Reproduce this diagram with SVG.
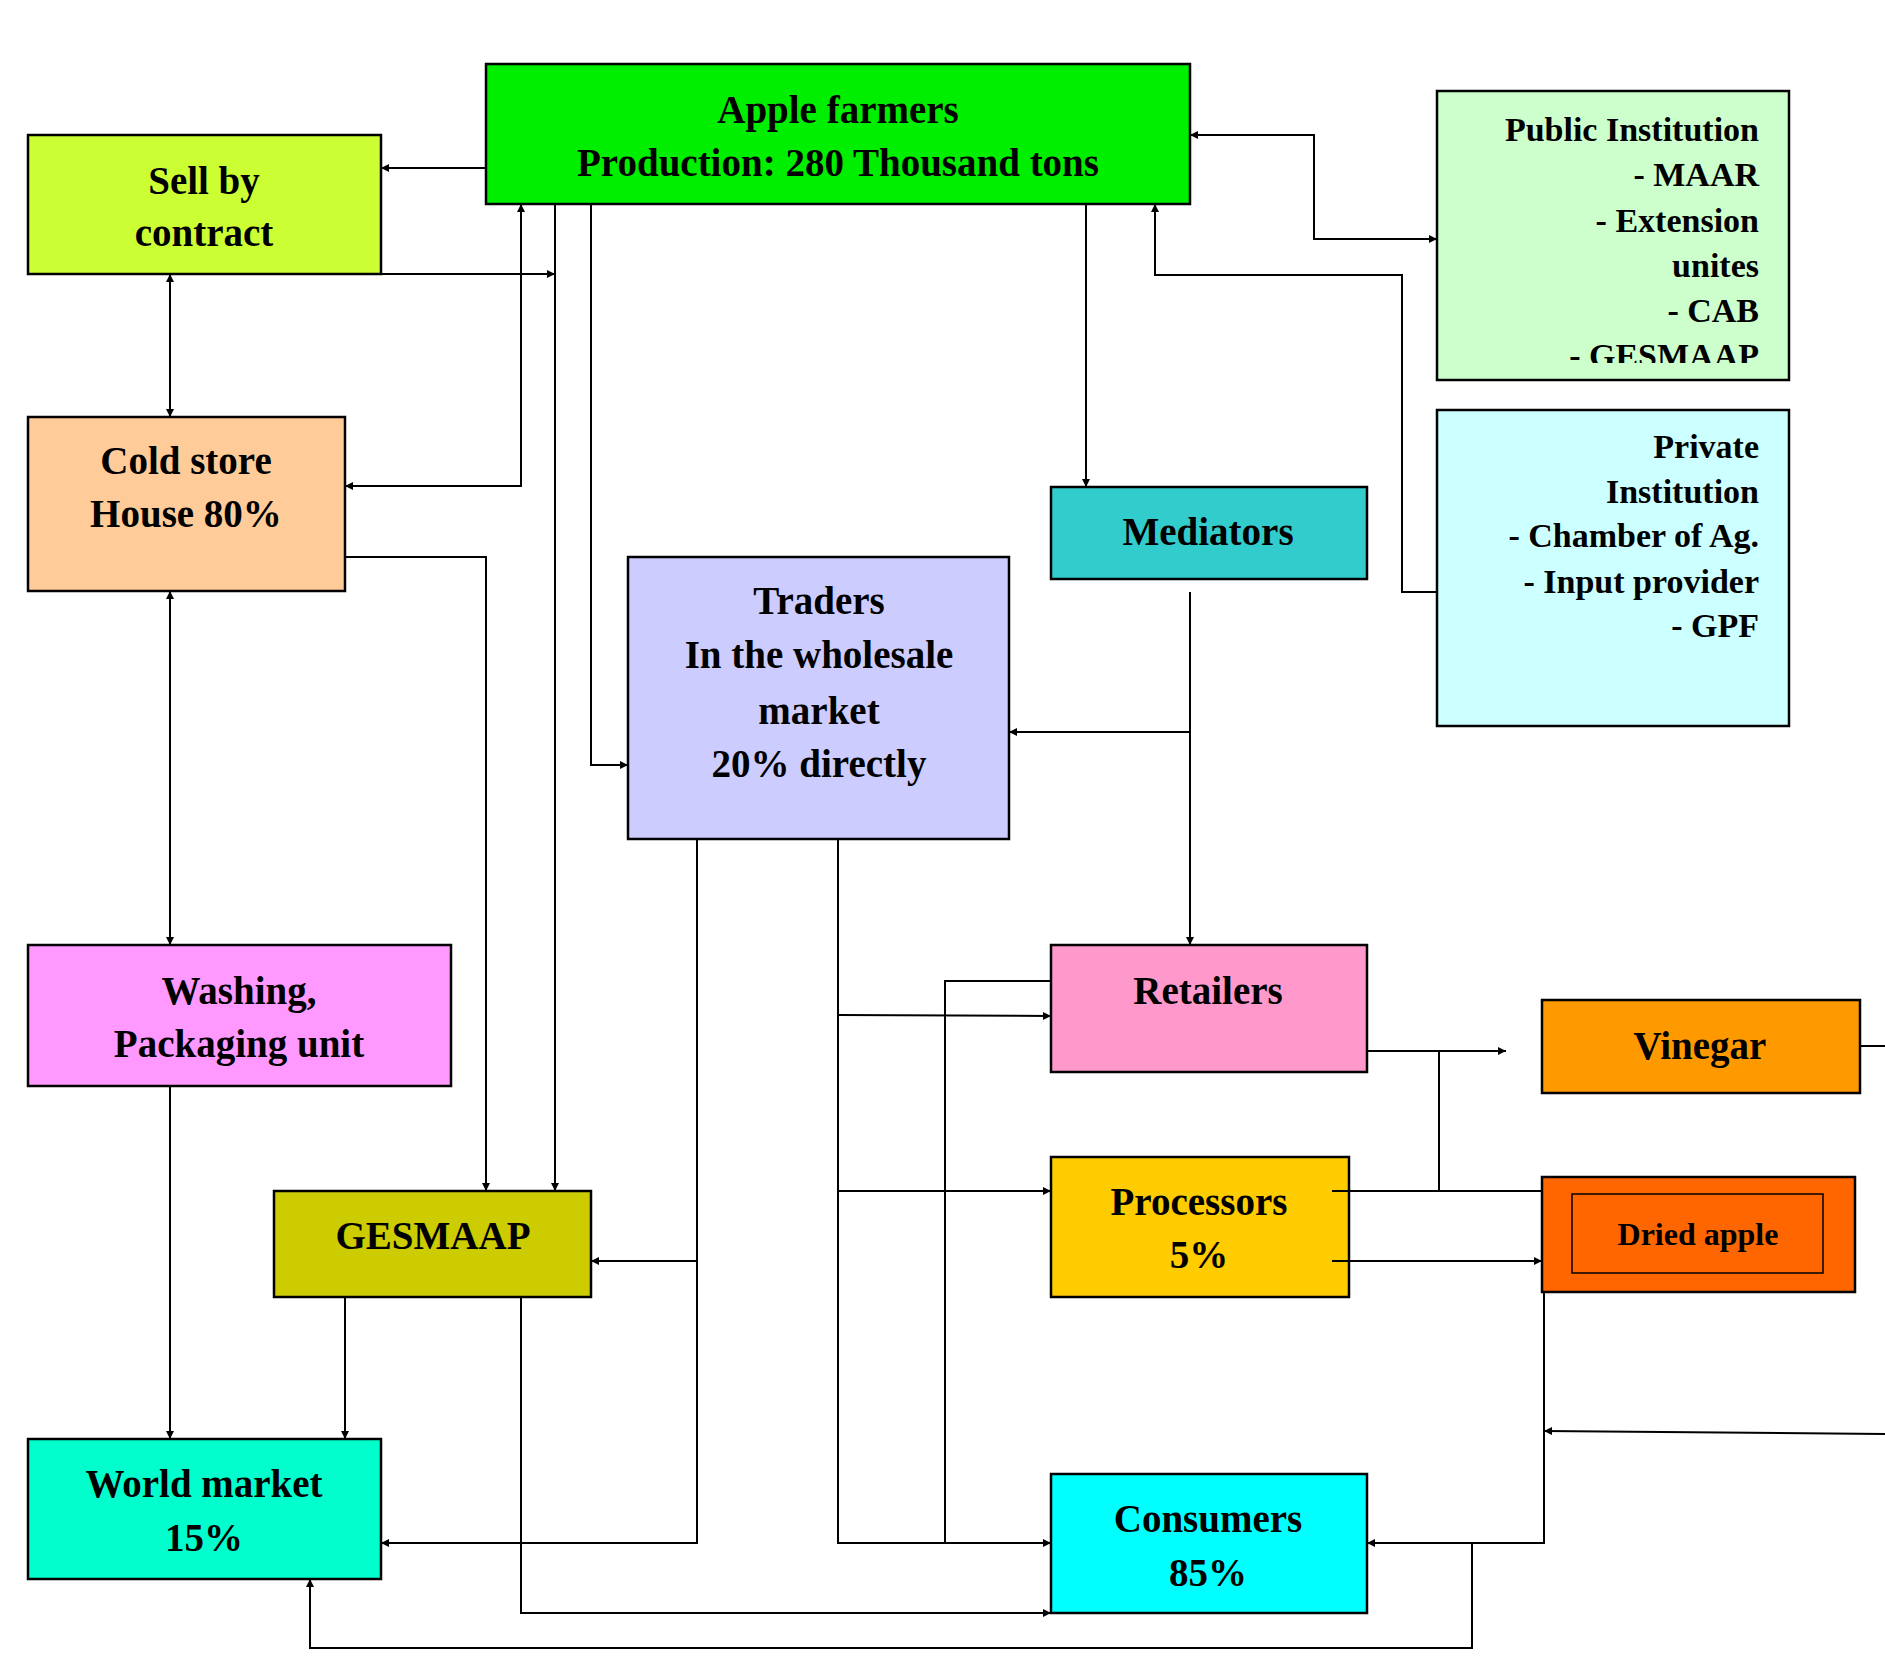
<svg xmlns="http://www.w3.org/2000/svg" width="1885" height="1679" viewBox="0 0 1885 1679">
<style>
.b{stroke:#000;stroke-width:2.5}
.t{font-family:"Liberation Serif","Times New Roman",serif;font-weight:bold;font-size:39px;fill:#000;text-anchor:middle}
.s{font-size:34px;text-anchor:end}
.c{fill:none;stroke:#000;stroke-width:2}
</style>
<defs>
<marker id="a" viewBox="0 0 10 10" refX="10" refY="5" markerWidth="8" markerHeight="8" markerUnits="userSpaceOnUse" orient="auto-start-reverse"><path d="M0,0L10,5L0,10z" fill="#000"/></marker>
<marker id="m" viewBox="0 0 10 10" refX="10" refY="5" markerWidth="11" markerHeight="11" orient="auto-start-reverse"><path d="M0,0L10,5L0,10z" fill="#000"/></marker>
<clipPath id="cp"><rect x="1437" y="91" width="352" height="272"/></clipPath>
</defs>
<rect width="1885" height="1679" fill="#fff"/>
<g id="apple-farmers"><rect class="b" x="486" y="64" width="704" height="140" fill="#00ee00"/><text class="t" x="838" y="123">Apple farmers</text><text class="t" x="838" y="176">Production: 280 Thousand tons</text></g>
<g id="sell-contract"><rect class="b" x="28" y="135" width="353" height="139" fill="#ccff33"/><text class="t" x="204" y="194">Sell by</text><text class="t" x="204" y="246">contract</text></g>
<g id="public"><rect class="b" x="1437" y="91" width="352" height="289" fill="#ccffcc"/><g clip-path="url(#cp)"><text class="t s" x="1759" y="141">Public Institution</text><text class="t s" x="1759" y="186">- MAAR</text><text class="t s" x="1759" y="232">- Extension</text><text class="t s" x="1759" y="277">unites</text><text class="t s" x="1759" y="322">- CAB</text><text class="t s" x="1759" y="367">- GESMAAP</text></g></g>
<g id="private"><rect class="b" x="1437" y="410" width="352" height="316" fill="#ccffff"/><text class="t s" x="1759" y="458">Private</text><text class="t s" x="1759" y="503">Institution</text><text class="t s" x="1759" y="547">- Chamber of Ag.</text><text class="t s" x="1759" y="593">- Input provider</text><text class="t s" x="1759" y="637">- GPF</text></g>
<g id="cold-store"><rect class="b" x="28" y="417" width="317" height="174" fill="#ffcc99"/><text class="t" x="186" y="474">Cold store</text><text class="t" x="186" y="527">House 80%</text></g>
<g id="mediators"><rect class="b" x="1051" y="487" width="316" height="92" fill="#33cccc"/><text class="t" x="1208" y="545">Mediators</text></g>
<g id="traders"><rect class="b" x="628" y="557" width="381" height="282" fill="#ccccff"/><text class="t" x="819" y="614">Traders</text><text class="t" x="819" y="668">In the wholesale</text><text class="t" x="819" y="724">market</text><text class="t" x="819" y="777">20% directly</text></g>
<g id="washing"><rect class="b" x="28" y="945" width="423" height="141" fill="#ff99ff"/><text class="t" x="239" y="1004">Washing,</text><text class="t" x="239" y="1057">Packaging unit</text></g>
<g id="retailers"><rect class="b" x="1051" y="945" width="316" height="127" fill="#ff99cc"/><text class="t" x="1208" y="1004">Retailers</text></g>
<g id="vinegar"><rect class="b" x="1542" y="1000" width="318" height="93" fill="#ff9900"/><text class="t" x="1700" y="1059">Vinegar</text></g>
<g id="gesmaap"><rect class="b" x="274" y="1191" width="317" height="106" fill="#cccc00"/><text class="t" x="433" y="1249">GESMAAP</text></g>
<g id="processors"><rect class="b" x="1051" y="1157" width="298" height="140" fill="#ffcc00"/><text class="t" x="1199" y="1215">Processors</text><text class="t" x="1199" y="1268">5%</text></g>
<g id="dried-apple"><rect class="b" x="1542" y="1177" width="313" height="115" fill="#ff6600"/><rect x="1572" y="1194" width="251" height="79" fill="none" stroke="#000" stroke-width="1.5"/><text class="t" x="1698" y="1245" style="font-size:32px">Dried apple</text></g>
<g id="world-market"><rect class="b" x="28" y="1439" width="353" height="140" fill="#00ffcc"/><text class="t" x="204" y="1497">World market</text><text class="t" x="204" y="1551">15%</text></g>
<g id="consumers"><rect class="b" x="1051" y="1474" width="316" height="139" fill="#00ffff"/><text class="t" x="1208" y="1532">Consumers</text><text class="t" x="1208" y="1586">85%</text></g>
<g id="connectors" class="c">
<path d="M486,168H381" marker-end="url(#a)"/>
<path d="M381,274H555" marker-end="url(#a)"/>
<path d="M555,204V1191" marker-end="url(#a)"/>
<path d="M345,486H521V204" marker-start="url(#a)" marker-end="url(#a)"/>
<path d="M591,204V765H628" marker-end="url(#a)"/>
<path d="M1086,204V487" marker-end="url(#a)"/>
<path d="M1190,135H1314V239H1437" marker-start="url(#a)" marker-end="url(#a)"/>
<path d="M1437,592H1402V275H1155V204" marker-end="url(#a)"/>
<path d="M170,274V417" marker-start="url(#a)" marker-end="url(#a)"/>
<path d="M170,591V945" marker-start="url(#a)" marker-end="url(#a)"/>
<path d="M345,557H486V1191" marker-end="url(#a)"/>
<path d="M170,1086V1439" marker-end="url(#a)"/>
<path d="M345,1297V1439" marker-end="url(#a)"/>
<path d="M1190,592V945" marker-end="url(#a)"/>
<path d="M1190,732H1009" marker-end="url(#a)"/>
<path d="M697,839V1543H381" marker-end="url(#a)"/>
<path d="M697,1261H591" marker-end="url(#a)"/>
<path d="M838,839V1543H1051" marker-end="url(#a)"/>
<path d="M838,1015L1051,1016" marker-end="url(#a)"/>
<path d="M838,1191H1051" marker-end="url(#a)"/>
<path d="M1051,981H945V1543"/>
<path d="M521,1297V1613H1051" marker-end="url(#a)"/>
<path d="M1367,1051H1506" marker-end="url(#a)"/>
<path d="M1439,1051V1191"/>
<path d="M1332,1191H1542"/>
<path d="M1332,1261H1542" marker-end="url(#a)"/>
<path d="M1860,1046H1885"/>
<path d="M1885,1434L1544,1431" marker-end="url(#a)"/>
<path d="M1544,1292V1543H1367" marker-end="url(#a)"/>
<path d="M1472,1543V1648H310V1579" marker-end="url(#a)"/>
</g>
</svg>
